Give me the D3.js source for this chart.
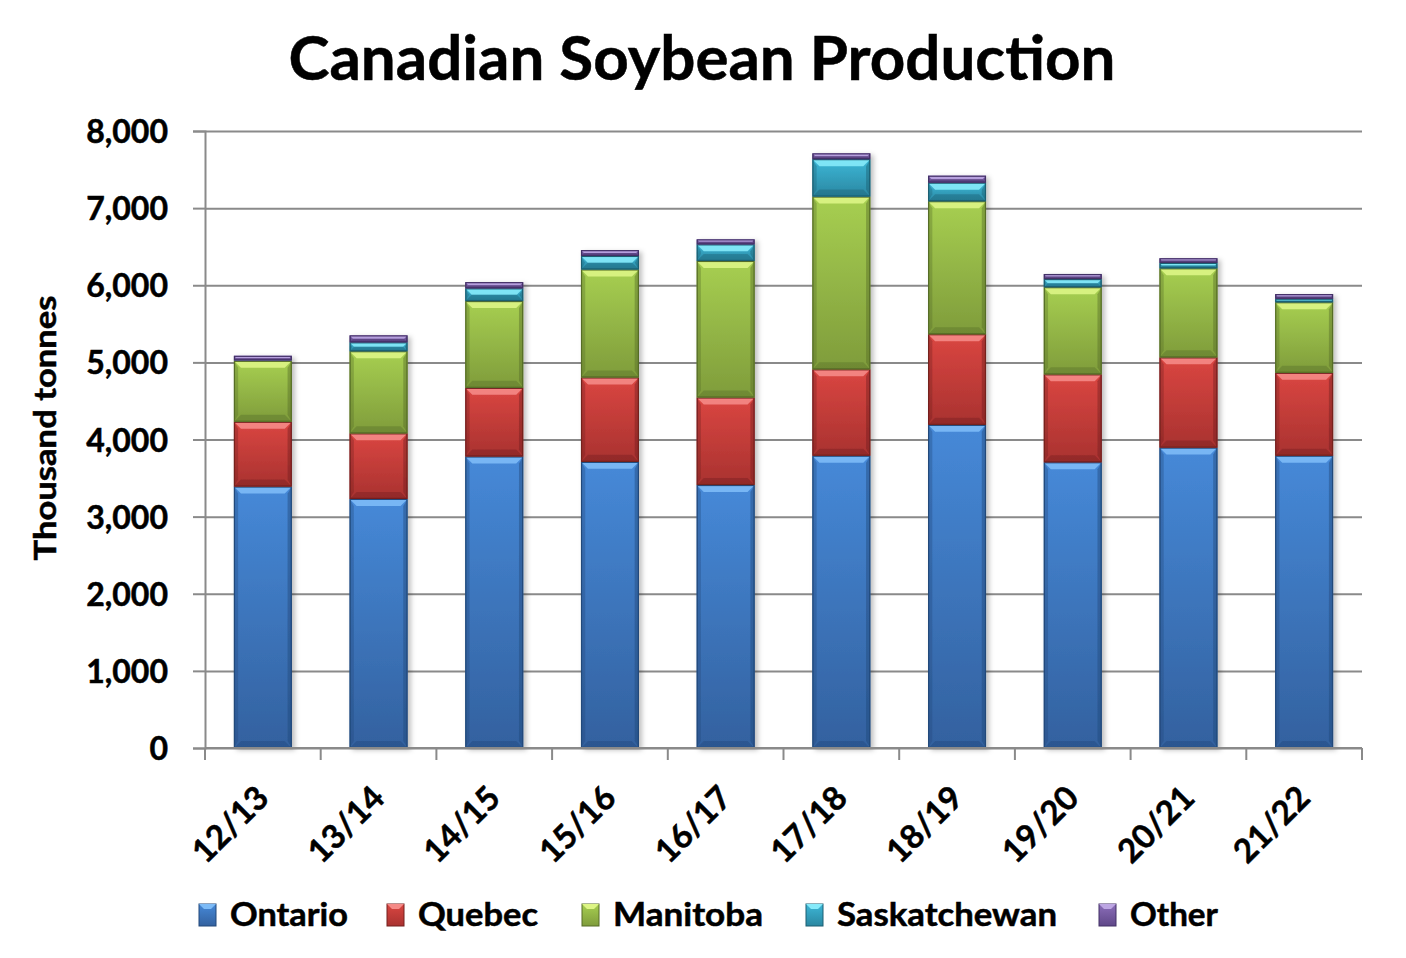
<!DOCTYPE html>
<html>
<head>
<meta charset="utf-8">
<script src="https://cdn.jsdelivr.net/npm/d3@7"></script>
<style>
  body { margin: 0; background: #fff; }
  text { font-family: Lato, "Open Sans", sans-serif; font-weight: bold; fill: #000; stroke: #000; stroke-width: 0.5px; }
</style>
</head>
<body>
<script>
const width = 1406;
const height = 958;

// data (thousand tonnes)
const seasons = ["12/13", "13/14", "14/15", "15/16", "16/17", "17/18", "18/19", "19/20", "20/21", "21/22"];
const provinces = ["Ontario", "Quebec", "Manitoba", "Saskatchewan", "Other"];
const ontario      = [3390, 3230, 3780, 3710, 3410, 3790, 4190, 3705, 3895, 3790];
const quebec       = [ 840,  850,  890, 1095, 1135, 1120, 1175, 1140, 1170, 1075];
const manitoba     = [ 790, 1065, 1125, 1400, 1770, 2240, 1725, 1130, 1155,  915];
const saskatchewan = [   5,  115,  165,  175,  215,  485,  240,  105,   70,   45];
const other        = [  60,   90,   80,   75,   65,   75,   90,   65,   60,   60];
const yTicks = [0, 1000, 2000, 3000, 4000, 5000, 6000, 7000, 8000];

// colours: [top, bottom, highlight, edge]
const palette = {
  Ontario:      ["#4689D8", "#33619F", "#7DBBF7", "#22497A"],
  Quebec:       ["#DA4641", "#A93230", "#F58A87", "#74201F"],
  Manitoba:     ["#A7CF51", "#7F9C3B", "#DDF585", "#566D27"],
  Saskatchewan: ["#3DB7D7", "#2A87A1", "#86EAFA", "#1C5F72"],
  Other:        ["#8C6EBA", "#5F4788", "#BDA6E3", "#433066"]
};

const series = [ontario, quebec, manitoba, saskatchewan, other];
const table = seasons.map((s, i) => {
  const row = {season: s};
  provinces.forEach((p, j) => row[p] = series[j][i]);
  return row;
});

const margin = {left: 205, right: 44, top: 131, bottom: 210};

const svg = d3.select("body").append("svg")
    .attr("width", width)
    .attr("height", height);

const defs = svg.append("defs");
provinces.forEach((p, i) => {
  const g = defs.append("linearGradient")
      .attr("id", "grad" + i)
      .attr("x1", 0).attr("y1", 0).attr("x2", 0).attr("y2", 1);
  g.append("stop").attr("offset", "0%").attr("stop-color", palette[p][0]);
  g.append("stop").attr("offset", "100%").attr("stop-color", palette[p][1]);
});
const shadow = defs.append("filter").attr("id", "shadow")
    .attr("x", "-20%").attr("y", "-5%").attr("width", "150%").attr("height", "115%");
shadow.append("feDropShadow")
    .attr("dx", 3).attr("dy", 2).attr("stdDeviation", 2.5)
    .attr("flood-color", "#000").attr("flood-opacity", 0.25);

const x = d3.scaleBand()
    .domain(seasons)
    .range([margin.left, width - margin.right])
    .paddingInner(0.5)
    .paddingOuter(0.25);

const y = d3.scaleLinear()
    .domain([0, 8000])
    .range([height - margin.bottom, margin.top]);

// gridlines
svg.append("g")
    .attr("transform", `translate(${margin.left},0)`)
    .call(d3.axisLeft(y).tickValues(yTicks).tickSize(-(width - margin.right - margin.left)).tickFormat(""))
    .call(g => g.select(".domain").remove())
    .call(g => g.selectAll("line").attr("stroke", "#8a8a8a").attr("stroke-width", 2));

// y axis
svg.append("g")
    .attr("transform", `translate(${margin.left},0)`)
    .call(d3.axisLeft(y).tickValues(yTicks).tickSize(12).tickPadding(25).tickFormat(d3.format(",")))
    .call(g => g.select(".domain").attr("stroke", "#8a8a8a").attr("stroke-width", 2))
    .call(g => g.selectAll("line").attr("stroke", "#8a8a8a").attr("stroke-width", 2))
    .call(g => g.selectAll("text")
        .attr("font-size", 32)
        .attr("font-family", "Lato, sans-serif")
        .attr("font-weight", "bold")
        .attr("fill", "#000")
        .attr("dy", "0.36em"));

// bars
const stacked = d3.stack().keys(provinces)(table);

function bevel(sel, k) {
  const col = palette[provinces[k]];
  sel.each(function(d) {
    const g = d3.select(this);
    const x0 = x(d.data.season), w = x.bandwidth();
    const y0 = y(d[1]), h = y(d[0]) - y(d[1]);
    const b = Math.min(7, h / 2);
    g.append("rect")
        .attr("x", x0).attr("y", y0).attr("width", w).attr("height", h)
        .attr("fill", `url(#grad${k})`);
    // top highlight
    g.append("polygon")
        .attr("points", [[x0, y0], [x0 + w, y0], [x0 + w - b, y0 + b], [x0 + b, y0 + b]].join(" "))
        .attr("fill", col[2]).attr("opacity", 0.9);
    // sides
    g.append("polygon")
        .attr("points", [[x0, y0], [x0 + b * 0.6, y0 + b], [x0 + b * 0.6, y0 + h - b], [x0, y0 + h]].join(" "))
        .attr("fill", col[3]).attr("opacity", 0.35);
    g.append("polygon")
        .attr("points", [[x0 + w, y0], [x0 + w - b * 0.6, y0 + b], [x0 + w - b * 0.6, y0 + h - b], [x0 + w, y0 + h]].join(" "))
        .attr("fill", col[3]).attr("opacity", 0.45);
    // bottom
    g.append("polygon")
        .attr("points", [[x0, y0 + h], [x0 + b, y0 + h - b], [x0 + w - b, y0 + h - b], [x0 + w, y0 + h]].join(" "))
        .attr("fill", col[3]).attr("opacity", 0.4);
    g.append("rect")
        .attr("x", x0 + 0.5).attr("y", y0 + 0.5).attr("width", w - 1).attr("height", Math.max(0, h - 1))
        .attr("fill", "none").attr("stroke", col[3]).attr("stroke-width", 1.2);
  });
}

const barsG = svg.append("g").attr("filter", "url(#shadow)");
stacked.forEach((layer, k) => {
  barsG.append("g")
      .attr("class", "series")
    .selectAll("g")
    .data(layer)
    .join("g")
      .call(bevel, k);
});

// x axis with ticks on category boundaries
const xAxis = svg.append("g").attr("transform", `translate(0,${y(0)})`);
xAxis.append("line")
    .attr("x1", margin.left).attr("x2", width - margin.right)
    .attr("stroke", "#8a8a8a").attr("stroke-width", 2);
const bounds = d3.range(seasons.length + 1).map(i => margin.left + i * x.step());
xAxis.selectAll(".tick")
  .data(bounds)
  .join("line")
    .attr("x1", d => d).attr("x2", d => d)
    .attr("y1", 0).attr("y2", 12)
    .attr("stroke", "#8a8a8a").attr("stroke-width", 2);
xAxis.selectAll(".lab")
  .data(seasons)
  .join("text")
    .attr("class", "lab")
    .attr("transform", d => `translate(${x(d) + x.bandwidth() / 2 + 8},${52}) rotate(-45)`)
    .attr("text-anchor", "end")
    .attr("font-size", 33)
    .text(d => d);

// title
svg.append("text")
    .attr("x", 702).attr("y", 80)
    .attr("text-anchor", "middle")
    .attr("font-size", 61)
    .attr("textLength", 827)
    .attr("lengthAdjust", "spacingAndGlyphs")
    .text("Canadian Soybean Production");

// y axis title
svg.append("text")
    .attr("transform", `translate(56,${428}) rotate(-90)`)
    .attr("text-anchor", "middle")
    .attr("font-size", 31)
    .attr("textLength", 265)
    .attr("lengthAdjust", "spacingAndGlyphs")
    .text("Thousand tonnes");

// legend
const legendX = [199, 387, 582, 806, 1099];
const legendW = [118, 120, 150, 220, 88];
const legend = svg.append("g")
  .selectAll("g")
  .data(provinces)
  .join("g")
    .attr("transform", (d, i) => `translate(${legendX[i]},904)`);
legend.append("rect")
    .attr("width", 17).attr("height", 22)
    .attr("fill", (d, i) => `url(#grad${i})`)
    .attr("stroke", d => palette[d][3]).attr("stroke-width", 1);
legend.append("polygon")
    .attr("points", "0,0 17,0 12,5 5,5")
    .attr("fill", d => palette[d][2]);
legend.append("text")
    .attr("x", 31).attr("y", 22)
    .attr("font-size", 32)
    .attr("textLength", (d, i) => legendW[i])
    .attr("lengthAdjust", "spacingAndGlyphs")
    .text(d => d);
</script>
</body>
</html>
